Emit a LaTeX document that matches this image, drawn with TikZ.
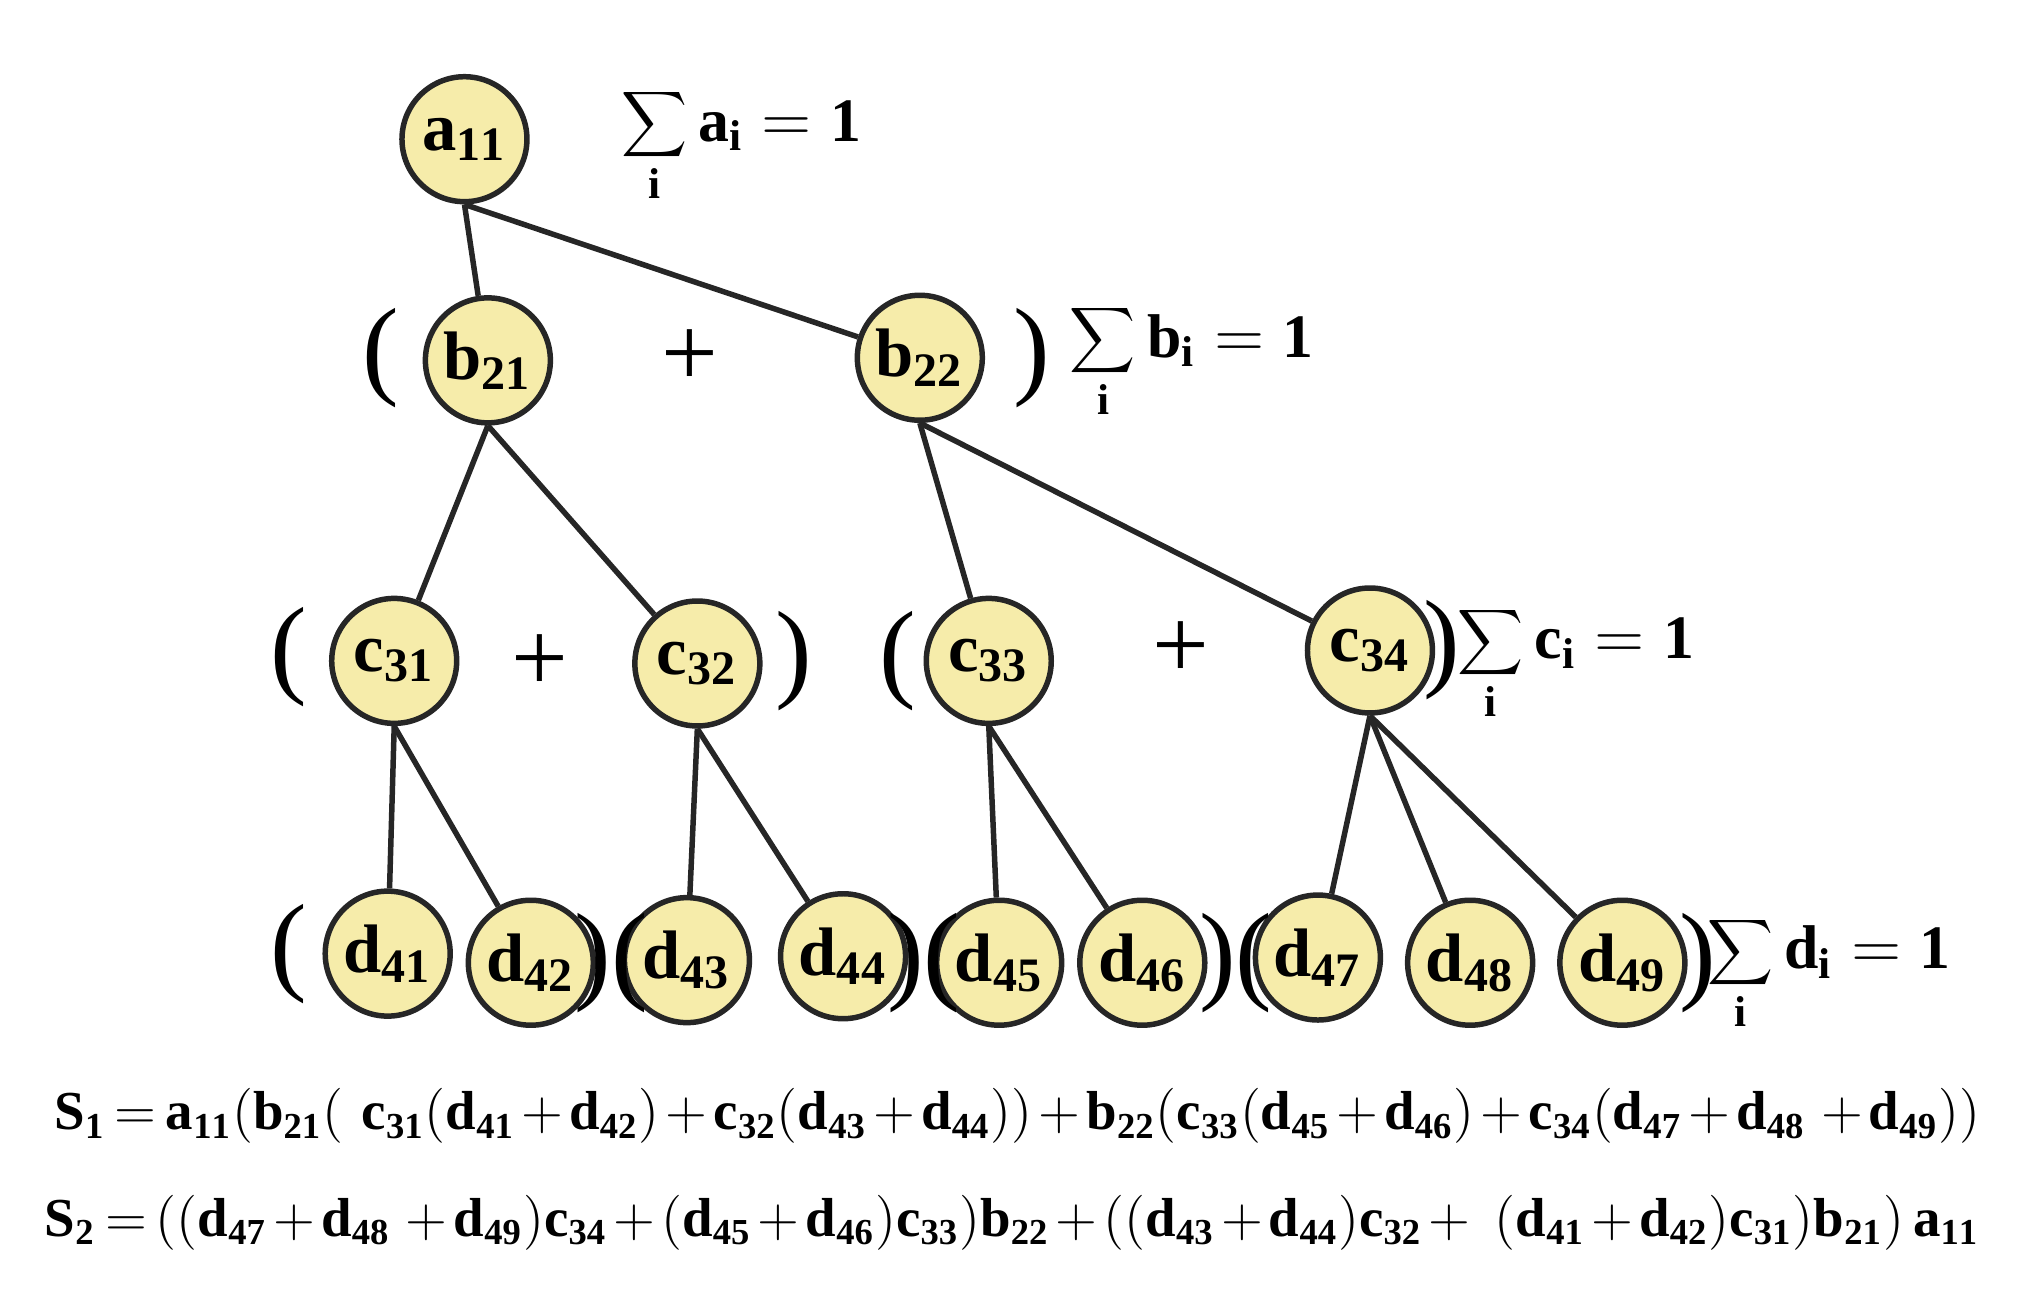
\documentclass[tikz,border=0pt]{standalone}
\usepackage{fontspec}
\setmainfont{Liberation Serif}
\definecolor{nfill}{RGB}{246,236,170}
\begin{document}
\begin{tikzpicture}[x=0.01cm,y=-0.01cm,
  nd/.style={circle,draw=black!85,line width=1.2pt,fill=nfill,minimum size=0.96cm,inner sep=0pt,font=\fontsize{15}{15}\selectfont\bfseries},
  ed/.style={line width=1.2pt,black!85},
  par/.style={font=\fontsize{24}{24}\selectfont},
  pl/.style={font=\fontsize{22}{22}\selectfont},
  sm/.style={font=\fontsize{13.5}{14}\selectfont\bfseries,anchor=west},
  eq/.style={font=\fontsize{12}{13}\selectfont\bfseries}]
\useasboundingbox (0,0) rectangle (1568,1004);
\node[nd] (a11) at (357,107) {a$_{\mathbf{11}}$};
\node[nd] (b21) at (375,277) {b$_{\mathbf{21}}$};
\node[nd] (b22) at (707,275) {b$_{\mathbf{22}}$};
\node[nd] (c31) at (303,508) {c$_{\mathbf{31}}$};
\node[nd] (c32) at (536,510) {c$_{\mathbf{32}}$};
\node[nd] (c33) at (760,508) {c$_{\mathbf{33}}$};
\node[nd] (c34) at (1053,500) {c$_{\mathbf{34}}$};
\node[nd] (d41) at (298,733) {d$_{\mathbf{41}}$};
\node[nd] (d42) at (408,740) {d$_{\mathbf{42}}$};
\node[nd] (d43) at (528,738) {d$_{\mathbf{43}}$};
\node[nd] (d44) at (648,735) {d$_{\mathbf{44}}$};
\node[nd] (d45) at (768,740) {d$_{\mathbf{45}}$};
\node[nd] (d46) at (878,740) {d$_{\mathbf{46}}$};
\node[nd] (d47) at (1013,736) {d$_{\mathbf{47}}$};
\node[nd] (d48) at (1130,740) {d$_{\mathbf{48}}$};
\node[nd] (d49) at (1247,740) {d$_{\mathbf{49}}$};
\foreach \p/\c in {a11/b21,a11/b22,b21/c31,b21/c32,b22/c33,b22/c34,c31/d41,c31/d42,c32/d43,c32/d44,c33/d45,c33/d46,c34/d47,c34/d48,c34/d49}
  \draw[ed] (\p.south) -- (\c);
\node[par] (p1) at (293,275) {(};
\node[par] (p2) at (793,275) {)};
\node[par] (p3) at (222,505) {(};
\node[par] (p4) at (610,508) {)};
\node[par] (p5) at (690,508) {(};
\node[par] (p6) at (1108,500) {)};
\node[par] (p7) at (222,733) {(};
\node[par] (p8) at (470,740) {)(};
\node[par] (p9) at (710,740) {)(};
\node[par] (p10) at (950,740) {)(};
\node[par] (p11) at (1305,740) {)};
\node[pl] (q1) at (530,275) {+};
\node[pl] (q2) at (415,510) {+};
\node[pl] (q3) at (908,500) {+};
\node[sm] (s1) at (465,112) {$\displaystyle\sum_{\mathbf{i}}\mathbf{a_i = 1}$};
\node[sm] (s2) at (810,278) {$\displaystyle\sum_{\mathbf{i}}\mathbf{b_i = 1}$};
\node[sm] (s3) at (1108,510) {$\displaystyle\sum_{\mathbf{i}}\mathbf{c_i = 1}$};
\node[sm] (s4) at (1300,748) {$\displaystyle\sum_{\mathbf{i}}\mathbf{d_i = 1}$};
\node[eq] (S1) at (782,858) {\medmuskip=2mu\thickmuskip=3mu$\mathbf{S_1 = a_{11}(b_{21}(\;\, c_{31}(d_{41}+d_{42})+c_{32}(d_{43}+d_{44}))+b_{22}(c_{33}(d_{45}+d_{46})+c_{34}(d_{47}+d_{48}\;+d_{49}))}$};
\node[eq] (S2) at (778,940) {\medmuskip=2mu\thickmuskip=3mu$\mathbf{S_2 = ((d_{47}+d_{48}\;+d_{49})c_{34}+(d_{45}+d_{46})c_{33})b_{22}+((d_{43}+d_{44})c_{32}+\;\,(d_{41}+d_{42})c_{31})b_{21})\,a_{11}}$};
\end{tikzpicture}
\end{document}
